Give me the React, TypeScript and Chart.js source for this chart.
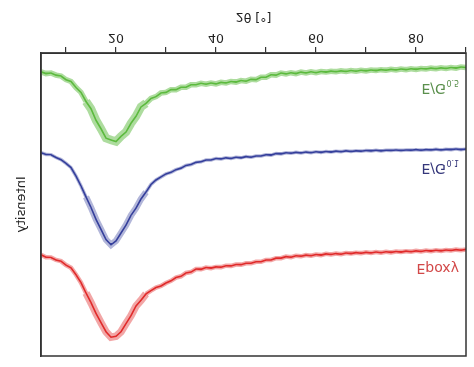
import { useEffect, useRef } from 'react';
import { Chart, registerables } from 'chart.js';

Chart.register(...registerables);

// 2θ positions (degrees)
const twoTheta = [
  5, 6, 7, 8, 9, 10, 11, 12, 13, 14, 15, 16, 17, 18, 19, 20, 21, 22, 23, 24,
  25, 26, 27, 28, 29, 30, 31, 32, 33, 34, 35, 36, 37, 38, 39, 40, 41, 42, 43, 44,
  45, 46, 47, 48, 49, 50, 51, 52, 53, 54, 55, 56, 57, 58, 59, 60, 61, 62, 63, 64,
  65, 66, 67, 68, 69, 70, 71, 72, 73, 74, 75, 76, 77, 78, 79, 80, 81, 82, 83, 84,
  85, 86, 87, 88, 89, 90,
];

// Intensity (offset, arbitrary units)
const epoxy = [
  66.6, 67.4, 67.5, 68.3, 68.7, 70.0, 70.9, 73.2, 75.8, 79.2, 82.4, 85.9, 89.0, 92.0, 93.8, 93.5, 92.0, 89.3, 86.7, 83.5,
  81.6, 79.5, 78.4, 77.4, 76.9, 75.9, 75.2, 74.1, 73.7, 72.6, 72.3, 71.3, 71.4, 70.8, 71.0, 70.6, 70.7, 70.2, 70.3, 69.8,
  69.9, 69.4, 69.4, 68.9, 68.9, 68.3, 68.3, 67.7, 67.7, 67.2, 67.4, 66.9, 67.1, 66.7, 66.9, 66.5, 66.7, 66.3, 66.5, 66.2,
  66.4, 66.0, 66.2, 65.9, 66.1, 65.8, 66.0, 65.7, 65.9, 65.6, 65.8, 65.5, 65.7, 65.4, 65.6, 65.3, 65.5, 65.2, 65.4, 65.1,
  65.3, 65.0, 65.2, 64.9, 65.1, 64.8,
];

const eg01 = [
  32.9, 33.5, 33.6, 34.5, 35.2, 36.4, 37.8, 40.6, 43.9, 47.5, 51.0, 54.9, 58.2, 61.6, 63.3, 62.0, 59.4, 56.8, 53.6, 51.2,
  48.2, 45.9, 43.4, 41.9, 40.9, 39.9, 39.4, 38.5, 38.0, 37.1, 36.8, 36.1, 35.9, 35.3, 35.3, 34.8, 35.0, 34.6, 34.8, 34.4,
  34.6, 34.2, 34.4, 34.0, 34.0, 33.6, 33.7, 33.2, 33.3, 32.9, 33.1, 32.8, 33.0, 32.7, 32.9, 32.6, 32.8, 32.5, 32.7, 32.4,
  32.6, 32.3, 32.5, 32.3, 32.4, 32.2, 32.3, 32.1, 32.3, 32.1, 32.2, 32.0, 32.2, 32.0, 32.1, 31.9, 32.1, 31.9, 32.0, 31.8,
  32.0, 31.8, 31.9, 31.7, 31.9, 31.7,
];

const eg05 = [
  6.2, 6.8, 6.6, 7.3, 7.6, 8.8, 9.4, 11.4, 13.0, 16.0, 18.4, 22.2, 25.0, 28.1, 28.7, 29.2, 27.5, 26.1, 23.2, 20.9,
  17.8, 16.6, 15.0, 14.4, 13.2, 13.0, 12.1, 12.1, 11.3, 11.3, 10.5, 10.5, 10.0, 10.3, 9.9, 10.2, 9.7, 9.9, 9.4, 9.6,
  9.1, 9.3, 8.7, 8.8, 8.0, 8.0, 7.2, 7.3, 6.6, 6.9, 6.5, 6.8, 6.3, 6.6, 6.2, 6.5, 6.1, 6.3, 6.0, 6.2,
  5.9, 6.1, 5.8, 6.0, 5.7, 5.9, 5.6, 5.8, 5.5, 5.7, 5.4, 5.6, 5.3, 5.5, 5.2, 5.4, 5.1, 5.3, 5.0, 5.2,
  4.9, 5.1, 4.8, 5.0, 4.6, 4.8,
];

const xTickValues = [10, 20, 30, 40, 50, 60, 70, 80, 90];
const xLabelledTicks = [20, 40, 60, 80];

const seriesNames = ['Epoxy', 'E/G', 'E/G'];
const seriesSubs = ['', '0.1', '0.5'];

const FONT = "'DejaVu Sans', 'Liberation Sans', sans-serif";

const toPts = (ys: number[]) => ys.map((y, i) => ({ x: twoTheta[i], y }));

export default function App() {
  const canvasRef = useRef<HTMLCanvasElement | null>(null);

  useEffect(() => {
    const canvas = canvasRef.current;
    if (!canvas) return;

    const colors = ['#e02a2a', '#353f9c', '#5cba3e'];
    const labelColors = ['#d24848', '#34367a', '#5a8f4c'];
    const labelAnchors = [
      { x: 80.1, y: 69.8 },
      { x: 81.1, y: 36.5 },
      { x: 81.1, y: 10.1 },
    ];
    const bandAlpha = ['rgba(224,42,42,0.42)', 'rgba(53,63,156,0.38)', 'rgba(92,186,62,0.5)'];
    const bandWidths = [4.5, 3.5, 5.5];
    const allSeries = [epoxy, eg01, eg05];

    const datasets: any[] = [];
    allSeries.forEach((s, i) => {
      datasets.push({
        data: toPts(s),
        borderColor: bandAlpha[i],
        borderWidth: bandWidths[i],
        segment: {
          borderWidth: (ctx: any) => {
            const x = ctx.p0.parsed.x;
            return x >= 14 && x <= 25 ? bandWidths[i] + 3 : bandWidths[i];
          },
        },
        pointRadius: 0,
        tension: 0,
        fill: false,
      });
      datasets.push({
        data: toPts(s),
        borderColor: colors[i],
        borderWidth: 1.6,
        pointRadius: 0,
        tension: 0,
        fill: false,
      });
    });

    const framePlugin = {
      id: 'frame',
      afterDraw(chart: any) {
        const { ctx, chartArea } = chart;
        ctx.save();
        ctx.strokeStyle = '#333';
        ctx.lineWidth = 1.5;
        ctx.strokeRect(chartArea.left, chartArea.top, chartArea.right - chartArea.left, chartArea.bottom - chartArea.top);
        ctx.restore();
      },
    };

    const labelPlugin = {
      id: 'seriesLabels',
      afterDatasetsDraw(chart: any) {
        const { ctx, scales } = chart;
        ctx.save();
        ctx.textAlign = 'left';
        ctx.textBaseline = 'alphabetic';
        seriesNames.forEach((name, i) => {
          const px = scales.x.getPixelForValue(labelAnchors[i].x);
          const py = scales.y.getPixelForValue(labelAnchors[i].y);
          ctx.fillStyle = labelColors[i];
          ctx.font = `14px ${FONT}`;
          ctx.fillText(name, px, py);
          if (seriesSubs[i]) {
            const w = ctx.measureText(name).width;
            ctx.font = `8px ${FONT}`;
            ctx.fillText(seriesSubs[i], px + w + 0.5, py + 3.3);
          }
        });
        ctx.restore();
      },
    };

    const chart = new Chart(canvas, {
      type: 'line',
      data: { datasets },
      options: {
        animation: false,
        responsive: false,
        maintainAspectRatio: false,
        layout: { padding: { top: 11, right: 8, left: 0, bottom: 0 } },
        plugins: { legend: { display: false }, tooltip: { enabled: false } },
        scales: {
          x: {
            type: 'linear',
            position: 'bottom',
            min: 5,
            max: 90,
            afterBuildTicks: (scale: any) => {
              scale.ticks = xTickValues.map((v) => ({ value: v }));
            },
            afterFit: (scale: any) => {
              scale.height = 53;
            },
            ticks: {
              autoSkip: false,
              maxRotation: 0,
              padding: 2,
              color: '#222',
              font: { family: FONT, size: 12.5 },
              callback: (v: any) => (xLabelledTicks.includes(Number(v)) ? String(v) : ''),
            },
            grid: {
              display: true,
              drawOnChartArea: false,
              drawTicks: true,
              tickLength: 6,
              color: '#333',
              lineWidth: 1.2,
            },
            border: { display: true, color: '#333', width: 1.5 },
            title: {
              display: true,
              text: '2θ [°]',
              color: '#222',
              font: { family: FONT, size: 12.5 },
              padding: { top: 0, bottom: 9 },
            },
          },
          y: {
            type: 'linear',
            min: 0,
            max: 100,
            afterFit: (scale: any) => {
              scale.width = 41;
            },
            ticks: { display: false },
            grid: { display: false },
            border: { display: true, color: '#333', width: 1.5 },
            title: {
              display: true,
              text: 'Intensity',
              color: '#222',
              font: { family: FONT, size: 13 },
              padding: { top: 14, bottom: 0 },
            },
          },
        },
      },
      plugins: [framePlugin, labelPlugin],
    });

    return () => chart.destroy();
  }, []);

  return (
    <div
      style={{
        position: 'absolute',
        left: 0,
        top: 0,
        width: 474,
        height: 367,
        background: '#fff',
        transform: 'scaleY(-1)',
      }}
    >
      <canvas ref={canvasRef} width={474} height={367} style={{ display: 'block' }} />
    </div>
  );
}
